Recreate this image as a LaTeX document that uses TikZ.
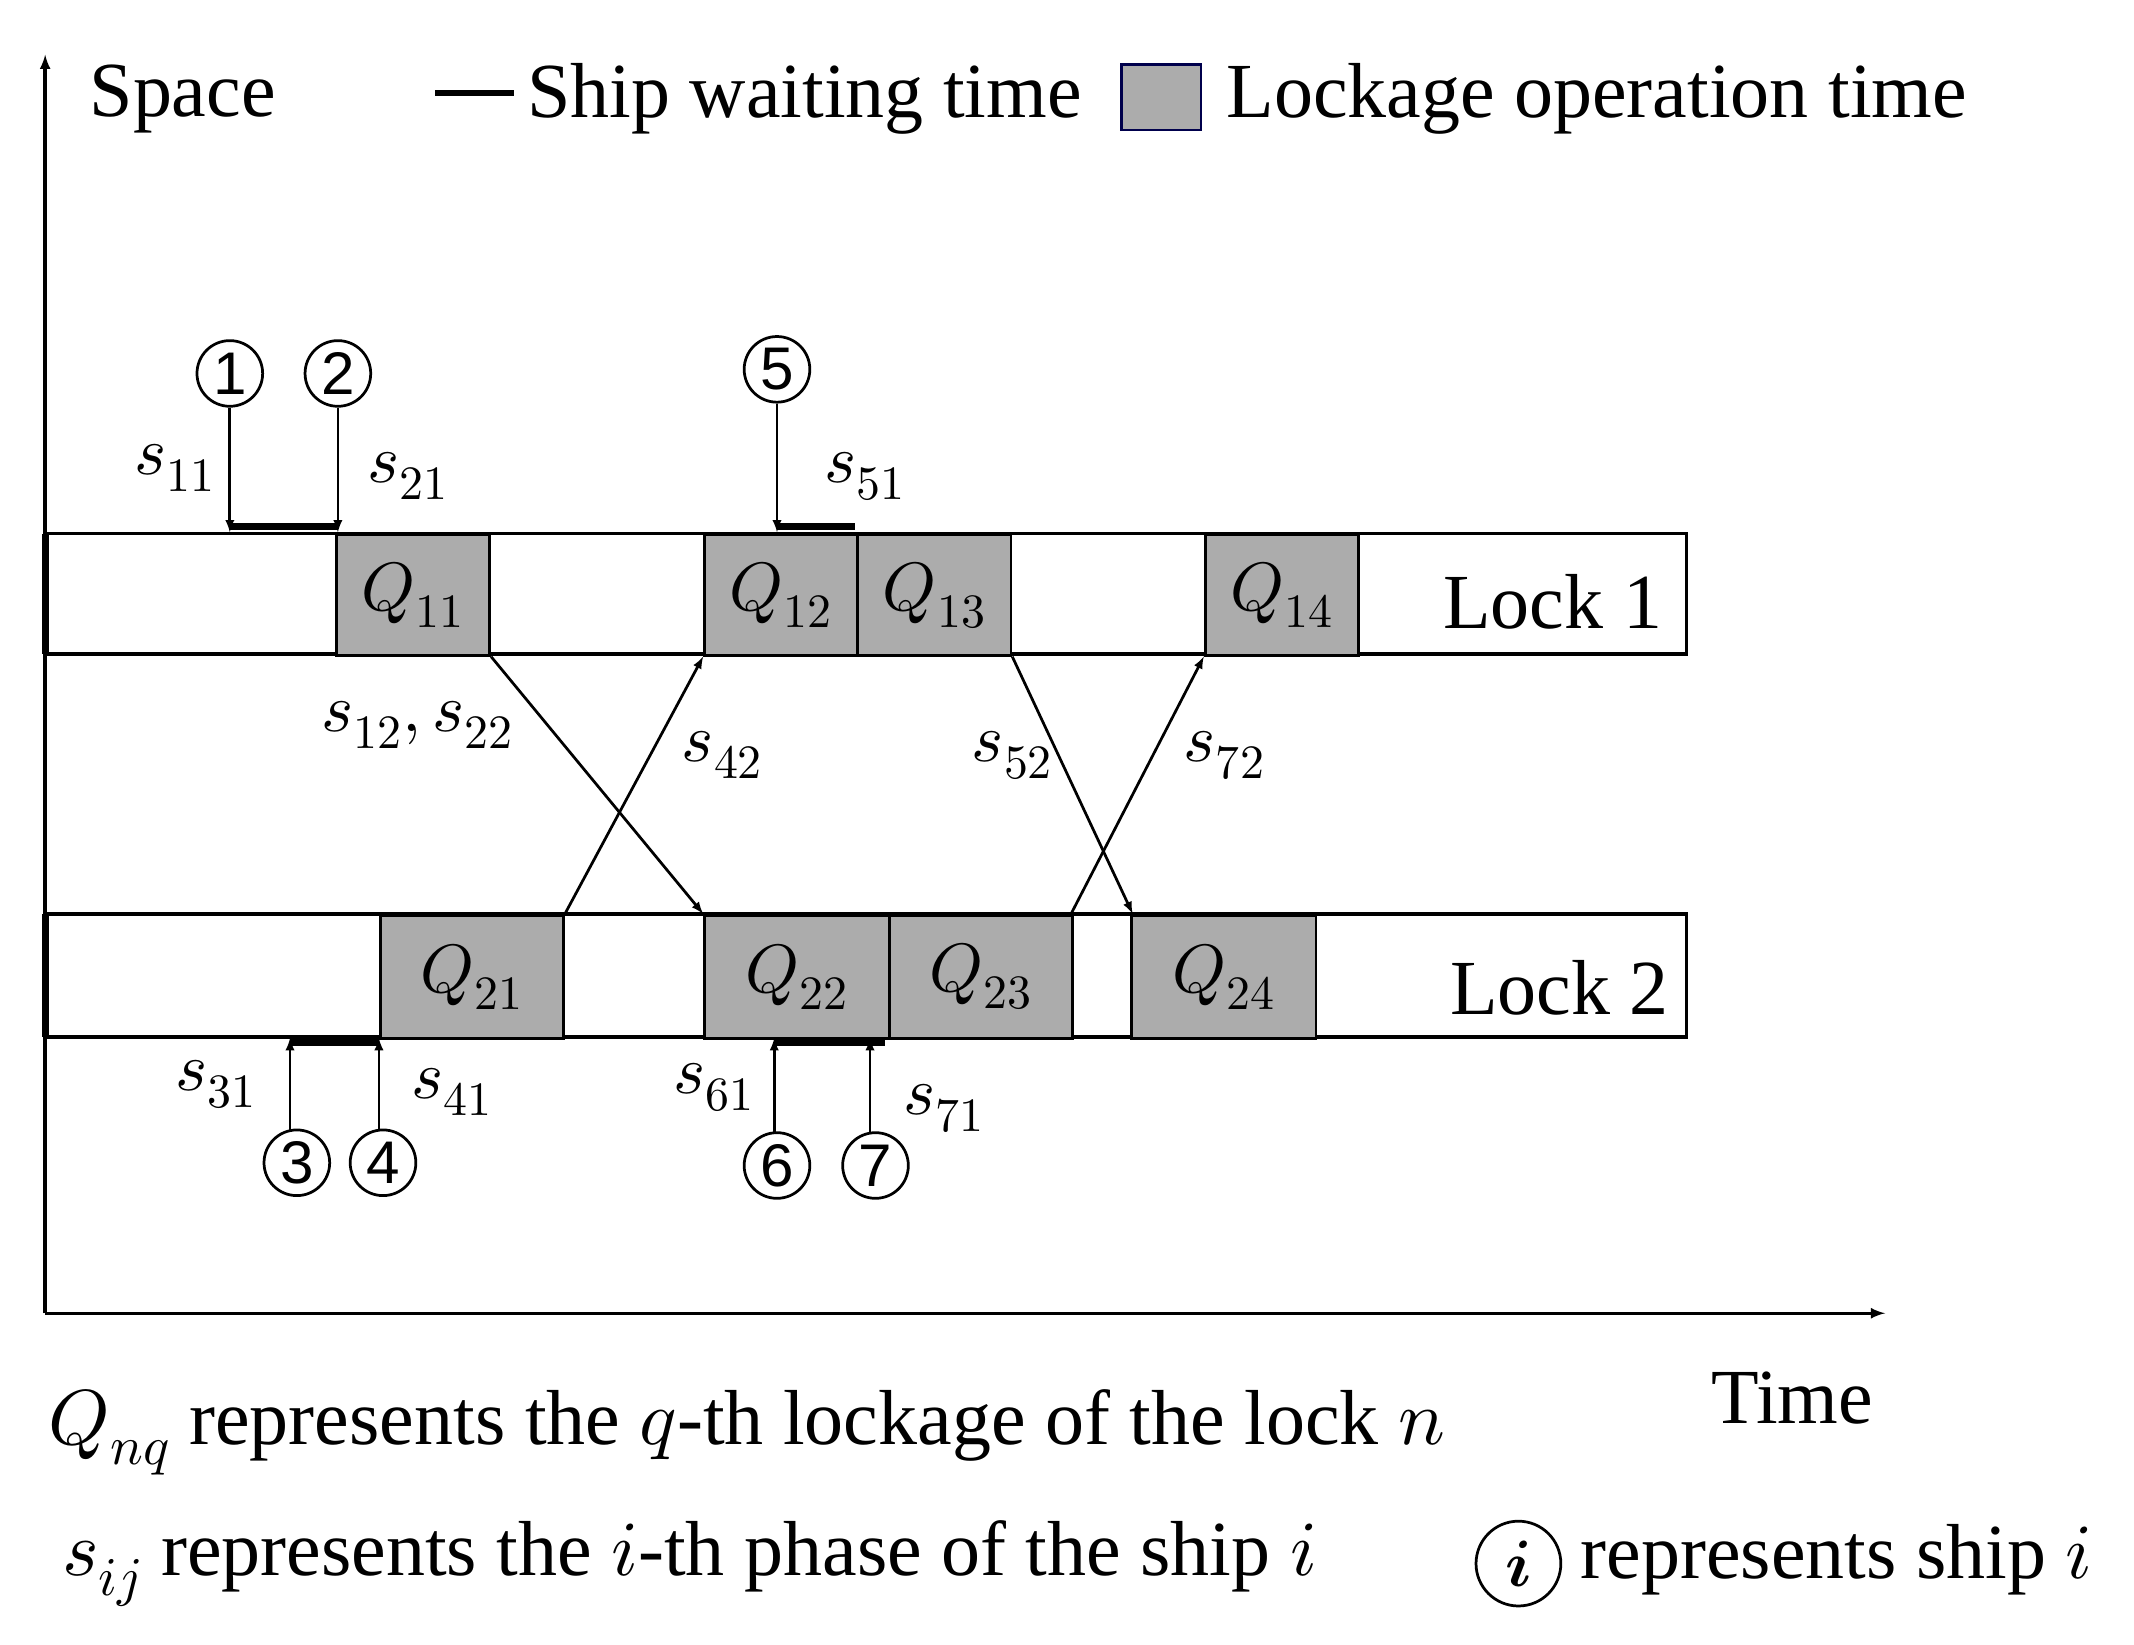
\documentclass[tikz,border=0pt]{standalone}
\usepackage{fontspec}
\usepackage{unicode-math}
\setmainfont{Liberation Serif}
\setmathfont{Latin Modern Math}
\newfontfamily\circfont{Liberation Sans}
\begin{document}
\begin{tikzpicture}[x=1pt,y=-1pt,
  big/.style={font=\fontsize{57}{62}\selectfont},
  lab/.style={font=\fontsize{50}{54}\selectfont},
  op/.style={fill=gray!65,draw=black,line width=2pt},
  lk/.style={draw=black,line width=2.5pt},
  ship/.style={circle,draw,line width=2pt,minimum size=48pt,inner sep=0pt,font=\circfont\fontsize{44}{44}\selectfont},
  arr/.style={-latex,line width=2pt},
  wait/.style={line width=5pt}]
\useasboundingbox (0,0) rectangle (1560,1202);
% axes
\coordinate (o) at (33,960);
\coordinate (ytop) at (33,40);
\coordinate (xend) at (1378,960);
\draw[-latex,line width=2.5pt] (o) -- (ytop);
\draw[-latex,line width=2.5pt] (o) -- (xend);
% legend
\node[big,anchor=west] (space) at (62,72) {Space};
\coordinate (w1) at (318,68); \coordinate (w2) at (376,68);
\draw[wait] (w1) -- (w2);
\node[big,anchor=west] (lw) at (382,72) {Ship waiting time};
\node[op,minimum width=58pt,minimum height=48pt,draw=blue!30!black] (lg) at (849,71) {};
\node[big,anchor=west] (lo) at (893,72) {Lockage operation time};
% lock 1
\draw[lk,fill=white] (33,390) rectangle (1233,478);
\draw[line width=5pt] (33,390) -- (33,478);
\node[op,anchor=north west,minimum width=112pt,minimum height=88pt] (Q11) at (245,390) {};
\node[op,anchor=north west,minimum width=112pt,minimum height=88pt] (Q12) at (514,390) {};
\node[op,anchor=north west,minimum width=112pt,minimum height=88pt] (Q13) at (626,390) {};
\node[op,anchor=north west,minimum width=112pt,minimum height=88pt] (Q14) at (880,390) {};
\node[lab] at (Q11) {$Q_{11}$};
\node[lab] at (Q12) {$Q_{12}$};
\node[lab] at (Q13) {$Q_{13}$};
\node[lab] at (Q14) {$Q_{14}$};
\node[big] (L1) at (1135,440) {Lock 1};
% lock 2
\draw[lk,fill=white] (33,668) rectangle (1233,758);
\draw[line width=5pt] (33,668) -- (33,758);
\draw[line width=2pt] (411,668) -- (411,758);
\node[op,anchor=north west,minimum width=134pt,minimum height=90pt] (Q21) at (277,668) {};
\node[op,anchor=north west,minimum width=135pt,minimum height=90pt] (Q22) at (514,668) {};
\node[op,anchor=north west,minimum width=134pt,minimum height=90pt] (Q23) at (649,668) {};
\node[op,anchor=north west,minimum width=135pt,minimum height=90pt] (Q24) at (826,668) {};
\node[lab] at (Q21) {$Q_{21}$};
\node[lab] at (Q22) {$Q_{22}$};
\node[lab] at (Q23) {$Q_{23}$};
\node[lab] at (Q24) {$Q_{24}$};
\node[big] (L2) at (1140,722) {Lock 2};
% ships top
\node[ship] (c1) at (168,273) {1};
\node[ship] (c2) at (247,273) {2};
\node[ship] (c5) at (568,270) {5};
\coordinate (a1) at (168,389); \coordinate (a2) at (247,389); \coordinate (a5) at (568,389);
\draw[arr] (c1) -- (a1); \draw[arr] (c2) -- (a2); \draw[arr] (c5) -- (a5);
\coordinate (t5) at (625,385);
\draw[wait] (168,385) -- (247,385);
\draw[wait] (a5|-t5) -- (t5);
% ships bottom
\node[ship] (c3) at (217,850) {3};
\node[ship] (c4) at (280,850) {4};
\node[ship] (c6) at (568,852) {6};
\node[ship] (c7) at (640,852) {7};
\coordinate (b3) at (212,759); \coordinate (b4) at (277,759);
\coordinate (b6) at (566,759); \coordinate (b7) at (636,759);
\draw[arr] (212,826) -- (b3); \draw[arr] (277,826) -- (b4);
\draw[arr] (566,828) -- (b6); \draw[arr] (636,828) -- (b7);
\draw[wait] (212,762) -- (277,762);
\draw[wait] (566,762) -- (647,762);
% diagonals
\draw[arr] (Q11.south east) -- (Q22.north west);
\draw[arr] (Q21.north east) -- (Q12.south west);
\draw[arr] (Q13.south east) -- ([xshift=2pt]Q24.north west);
\draw[arr] (783,668) -- (Q14.south west);
% labels
\node[lab] at (128,342) {$s_{11}$};
\node[lab] at (298,348) {$s_{21}$};
\node[lab] at (632,348) {$s_{51}$};
\node[lab] at (305,530) {$s_{12},s_{22}$};
\node[lab] at (528,552) {$s_{42}$};
\node[lab] at (740,552) {$s_{52}$};
\node[lab] at (895,552) {$s_{72}$};
\node[lab] at (158,793) {$s_{31}$};
\node[lab] at (330,798) {$s_{41}$};
\node[lab] at (522,795) {$s_{61}$};
\node[lab] at (690,810) {$s_{71}$};
% bottom text
\node[big] (tm) at (1310,1022) {Time};
\node[big,anchor=west] (d1) at (32,1047) {$Q_{nq}$ represents the $q$-th lockage of the lock $n$};
\node[big,anchor=west] (d2) at (42,1143) {$s_{ij}$ represents the $i$-th phase of the ship $i$};
\node[ship,minimum size=62pt,font=\fontsize{48}{48}\selectfont] (ci) at (1110,1143) {$\symbfit{i}$};
\node[big,anchor=west] (d3) at (1152,1140) {represents ship $i$};
\end{tikzpicture}
\end{document}
